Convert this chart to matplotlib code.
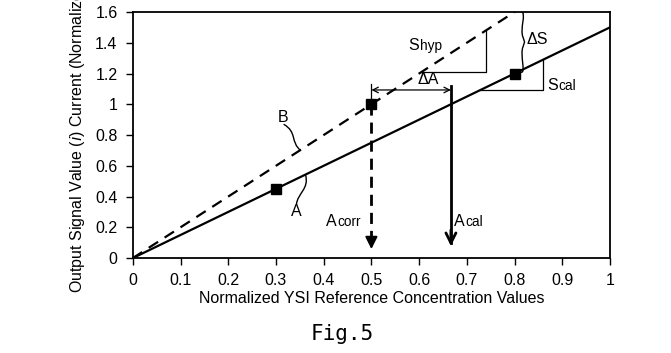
import numpy as np
import matplotlib
matplotlib.use("Agg")
import matplotlib.pyplot as plt
from matplotlib.path import Path
from matplotlib.patches import PathPatch
from matplotlib.ticker import FormatStrFormatter
from matplotlib.offsetbox import TextArea, HPacker, AnnotationBbox

plt.rcParams['font.family'] = ['Liberation Sans', 'DejaVu Sans']
FS = 11.5

# --- data ---
x_line = [0.0, 1.0]
slope_cal = 1.5      # line A (calibration)
slope_hyp = 2.0      # line B (hypothetical)
points_x = [0.3, 0.5, 0.8]
points_y = [0.45, 1.0, 1.2]
x_corr = 0.5
x_cal = 1.0 / slope_cal
xticks = np.arange(0, 1.01, 0.1)
yticks = np.arange(0, 1.61, 0.2)


def sub_label(ax, x, y, main, sub, ha='left'):
    # letter plus a slightly smaller subscript sitting on the baseline
    t1 = TextArea(main, textprops=dict(fontsize=FS))
    t2 = TextArea(sub, textprops=dict(fontsize=FS * 0.85))
    box = HPacker(children=[t1, t2], pad=0, sep=0.5, align='bottom')
    bx = 1.0 if ha == 'right' else 0.0
    ab = AnnotationBbox(box, (x, y), xycoords='data', box_alignment=(bx, 0.5),
                        frameon=False, pad=0)
    ax.add_artist(ab)


fig = plt.figure(figsize=(6.71, 3.53), dpi=100)
ax = fig.add_axes([0.198, 0.269, 0.711, 0.697])

xa = np.array(x_line)
ax.plot(xa, slope_cal * xa, color='black', lw=1.6, zorder=3)
ax.plot(xa, slope_hyp * xa, color='black', lw=1.6, ls=(0, (5, 3.5)), zorder=3)
ax.plot(points_x, points_y, 's', color='black', ms=7, zorder=4)

# vertical arrows down to x axis
ax.plot([x_corr, x_corr], [1.0, 0.1], color='black', lw=2, ls=(0, (4, 2.5)))
ax.annotate('', xy=(x_corr, 0.04), xytext=(x_corr, 0.12),
            arrowprops=dict(arrowstyle='-|>', color='black', lw=1.5,
                            mutation_scale=18))
ax.plot([x_cal, x_cal], [1.12, 0.1], color='black', lw=2)
ax.annotate('', xy=(x_cal, 0.06), xytext=(x_cal, 0.2),
            arrowprops=dict(arrowstyle='->', color='black', lw=2,
                            mutation_scale=18))
sub_label(ax, 0.478, 0.235, 'A', 'corr', ha='right')
sub_label(ax, 0.673, 0.235, 'A', 'cal')

# delta A dimension
ax.plot([x_corr, x_corr], [1.0, 1.13], color='black', lw=0.9)
ax.annotate('', xy=(x_corr, 1.093), xytext=(x_cal, 1.093),
            arrowprops=dict(arrowstyle='<->', color='black', lw=0.9,
                            shrinkA=0, shrinkB=0))
ax.text(0.618, 1.11, '\u0394A', ha='center', va='bottom', fontsize=FS)

# slope triangles
ax.plot([0.605, 0.74, 0.74], [1.21, 1.21, 1.48], color='black', lw=0.9)
sub_label(ax, 0.577, 1.385, 'S', 'hyp')
ax.plot([0.727, 0.86, 0.86], [1.093, 1.093, 1.29], color='black', lw=0.9)
sub_label(ax, 0.868, 1.12, 'S', 'cal')

# delta S curly brace
bx, top, bot, w = 0.818, 1.6, 1.21, 0.008
mid = (top + bot) / 2
verts = [(bx - 0.004, top), (bx + w, top), (bx - w, mid + 0.08), (bx, mid + 0.03),
         (bx + 0.003, mid), (bx + 0.003, mid),
         (bx, mid - 0.03), (bx - w, mid - 0.08), (bx + w, bot - 0.02), (bx - 0.006, bot)]
codes = [Path.MOVETO, Path.CURVE4, Path.CURVE4, Path.CURVE4,
         Path.LINETO, Path.LINETO,
         Path.LINETO, Path.CURVE4, Path.CURVE4, Path.CURVE4]
ax.add_patch(PathPatch(Path(verts, codes), fill=False, lw=1.0, color='black'))
ax.text(0.826, 1.42, '\u0394S', ha='left', va='center', fontsize=FS)

# leader curves for A and B
ax.text(0.314, 0.915, 'B', ha='center', va='center', fontsize=FS)
bv = [(0.316, 0.87), (0.345, 0.82), (0.33, 0.75), (0.352, 0.70)]
ax.add_patch(PathPatch(Path(bv, [Path.MOVETO] + [Path.CURVE4] * 3),
                       fill=False, lw=1.0, color='black'))
ax.text(0.342, 0.30, 'A', ha='center', va='center', fontsize=FS)
av = [(0.343, 0.35), (0.345, 0.42), (0.37, 0.45), (0.362, 0.54)]
ax.add_patch(PathPatch(Path(av, [Path.MOVETO] + [Path.CURVE4] * 3),
                       fill=False, lw=1.0, color='black'))

ax.set_xlim(0, 1)
ax.set_ylim(0, 1.6)
ax.set_xticks(xticks)
ax.set_yticks(yticks)
ax.xaxis.set_major_formatter(FormatStrFormatter('%g'))
ax.yaxis.set_major_formatter(FormatStrFormatter('%g'))
ax.tick_params(direction='out', length=5, width=1, labelsize=FS, pad=6)
for s in ax.spines.values():
    s.set_linewidth(1.3)
ax.set_xlabel('Normalized YSI Reference Concentration Values', fontsize=FS, labelpad=2)
ax.set_ylabel(r'Output Signal Value ($i$) Current (Normalized)', fontsize=FS, labelpad=6)

fig.text(0.51, 0.054, 'Fig.5', ha='center', va='center', fontsize=15,
         family='DejaVu Sans Mono', fontweight='light')

fig.savefig('out.png', dpi=100)
